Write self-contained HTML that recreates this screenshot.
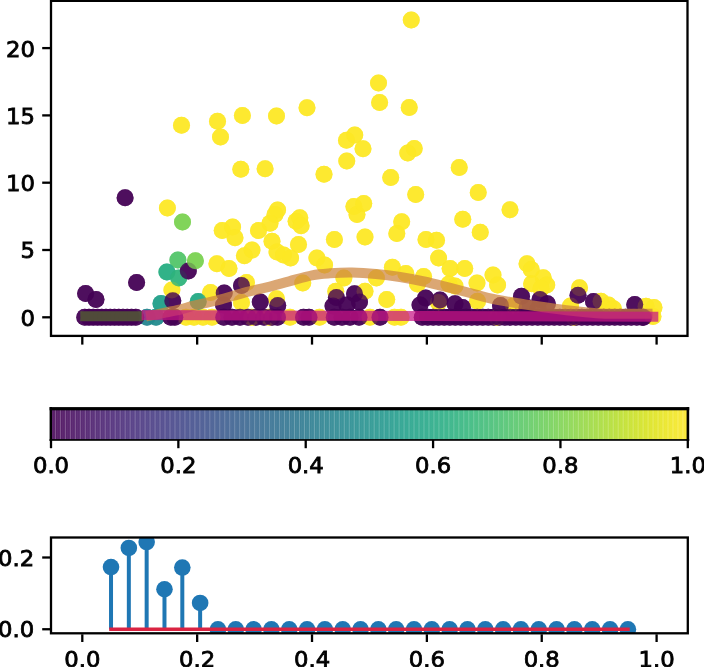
<!DOCTYPE html>
<html><head><meta charset="utf-8"><title>plot</title><style>html,body{margin:0;padding:0;background:#fff}svg{display:block}</style></head><body>
<svg width="704" height="667" viewBox="0 0 704 667">
<defs>
<clipPath id="c1"><rect x="51" y="1" width="636.5" height="335"/></clipPath>
<clipPath id="c2"><rect x="51" y="537.5" width="636.8" height="95.8"/></clipPath>
<linearGradient id="vg" x1="0" x2="1" y1="0" y2="0"><stop offset="0.000" stop-color="#440154"/><stop offset="0.031" stop-color="#470d60"/><stop offset="0.062" stop-color="#48186a"/><stop offset="0.094" stop-color="#482374"/><stop offset="0.125" stop-color="#472d7b"/><stop offset="0.156" stop-color="#453781"/><stop offset="0.188" stop-color="#424086"/><stop offset="0.219" stop-color="#3e4989"/><stop offset="0.250" stop-color="#3b528b"/><stop offset="0.281" stop-color="#375b8d"/><stop offset="0.312" stop-color="#33638d"/><stop offset="0.344" stop-color="#2f6b8e"/><stop offset="0.375" stop-color="#2c728e"/><stop offset="0.406" stop-color="#297a8e"/><stop offset="0.438" stop-color="#26828e"/><stop offset="0.469" stop-color="#23898e"/><stop offset="0.500" stop-color="#21918c"/><stop offset="0.531" stop-color="#1f988b"/><stop offset="0.562" stop-color="#1fa088"/><stop offset="0.594" stop-color="#22a785"/><stop offset="0.625" stop-color="#28ae80"/><stop offset="0.656" stop-color="#32b67a"/><stop offset="0.688" stop-color="#3fbc73"/><stop offset="0.719" stop-color="#4ec36b"/><stop offset="0.750" stop-color="#5ec962"/><stop offset="0.781" stop-color="#70cf57"/><stop offset="0.812" stop-color="#84d44b"/><stop offset="0.844" stop-color="#98d83e"/><stop offset="0.875" stop-color="#addc30"/><stop offset="0.906" stop-color="#c2df23"/><stop offset="0.938" stop-color="#d8e219"/><stop offset="0.969" stop-color="#ece51b"/><stop offset="1.000" stop-color="#fde725"/></linearGradient>
<pattern id="st" width="4.98" height="10" patternUnits="userSpaceOnUse" x="51"><rect x="3.9" y="0" width="1" height="10" fill="#fff" fill-opacity="0.26"/><rect x="1.4" y="0" width="0.8" height="10" fill="#fff" fill-opacity="0.07"/></pattern>
<g id="dots" fill-opacity="0.77"><circle cx="181.50" cy="125.25" r="8.50" fill="#fde725"/><circle cx="217.50" cy="121.30" r="8.50" fill="#fde725"/><circle cx="220.50" cy="137.00" r="8.50" fill="#fde725"/><circle cx="242.40" cy="115.40" r="8.50" fill="#fde725"/><circle cx="276.50" cy="116.00" r="8.50" fill="#fde725"/><circle cx="307.00" cy="107.75" r="8.50" fill="#fde725"/><circle cx="378.50" cy="82.90" r="8.50" fill="#fde725"/><circle cx="379.60" cy="102.40" r="8.50" fill="#fde725"/><circle cx="411.25" cy="20.00" r="8.50" fill="#fde725"/><circle cx="409.25" cy="107.50" r="8.50" fill="#fde725"/><circle cx="414.25" cy="148.50" r="8.50" fill="#fde725"/><circle cx="407.75" cy="153.00" r="8.50" fill="#fde725"/><circle cx="459.25" cy="167.50" r="8.50" fill="#fde725"/><circle cx="240.80" cy="169.30" r="8.50" fill="#fde725"/><circle cx="265.10" cy="168.70" r="8.50" fill="#fde725"/><circle cx="324.00" cy="174.25" r="8.50" fill="#fde725"/><circle cx="346.50" cy="140.25" r="8.50" fill="#fde725"/><circle cx="354.75" cy="135.00" r="8.50" fill="#fde725"/><circle cx="363.00" cy="148.75" r="8.50" fill="#fde725"/><circle cx="346.75" cy="161.00" r="8.50" fill="#fde725"/><circle cx="390.70" cy="177.60" r="8.50" fill="#fde725"/><circle cx="415.70" cy="194.50" r="8.50" fill="#fde725"/><circle cx="478.25" cy="192.50" r="8.50" fill="#fde725"/><circle cx="510.00" cy="209.75" r="8.50" fill="#fde725"/><circle cx="462.75" cy="219.25" r="8.50" fill="#fde725"/><circle cx="480.25" cy="232.25" r="8.50" fill="#fde725"/><circle cx="401.70" cy="221.80" r="8.50" fill="#fde725"/><circle cx="396.80" cy="233.40" r="8.50" fill="#fde725"/><circle cx="426.00" cy="239.50" r="8.50" fill="#fde725"/><circle cx="436.50" cy="240.25" r="8.50" fill="#fde725"/><circle cx="438.60" cy="258.00" r="8.50" fill="#fde725"/><circle cx="450.10" cy="268.40" r="8.50" fill="#fde725"/><circle cx="464.75" cy="268.60" r="8.50" fill="#fde725"/><circle cx="392.40" cy="267.20" r="8.50" fill="#fde725"/><circle cx="405.80" cy="273.40" r="8.50" fill="#fde725"/><circle cx="423.60" cy="276.60" r="8.50" fill="#fde725"/><circle cx="417.50" cy="284.00" r="8.50" fill="#fde725"/><circle cx="448.90" cy="284.00" r="8.50" fill="#fde725"/><circle cx="455.00" cy="286.00" r="8.50" fill="#fde725"/><circle cx="477.00" cy="283.00" r="8.50" fill="#fde725"/><circle cx="493.00" cy="275.00" r="8.50" fill="#fde725"/><circle cx="497.60" cy="285.00" r="8.50" fill="#fde725"/><circle cx="527.00" cy="263.75" r="8.50" fill="#fde725"/><circle cx="531.25" cy="269.40" r="8.50" fill="#fde725"/><circle cx="543.25" cy="277.75" r="8.50" fill="#fde725"/><circle cx="531.60" cy="283.70" r="8.50" fill="#fde725"/><circle cx="546.75" cy="285.00" r="8.50" fill="#fde725"/><circle cx="579.50" cy="287.75" r="8.50" fill="#fde725"/><circle cx="167.40" cy="207.90" r="8.50" fill="#fde725"/><circle cx="222.20" cy="230.40" r="8.50" fill="#fde725"/><circle cx="232.60" cy="226.90" r="8.50" fill="#fde725"/><circle cx="235.00" cy="237.75" r="8.50" fill="#fde725"/><circle cx="277.60" cy="210.00" r="8.50" fill="#fde725"/><circle cx="275.00" cy="214.40" r="8.50" fill="#fde725"/><circle cx="270.00" cy="223.30" r="8.50" fill="#fde725"/><circle cx="258.50" cy="230.60" r="8.50" fill="#fde725"/><circle cx="272.00" cy="241.25" r="8.50" fill="#fde725"/><circle cx="252.00" cy="250.00" r="8.50" fill="#fde725"/><circle cx="244.40" cy="255.80" r="8.50" fill="#fde725"/><circle cx="277.00" cy="252.00" r="8.50" fill="#fde725"/><circle cx="283.50" cy="255.00" r="8.50" fill="#fde725"/><circle cx="290.60" cy="258.00" r="8.50" fill="#fde725"/><circle cx="296.10" cy="221.30" r="8.50" fill="#fde725"/><circle cx="299.80" cy="217.70" r="8.50" fill="#fde725"/><circle cx="301.10" cy="225.70" r="8.50" fill="#fde725"/><circle cx="298.50" cy="244.60" r="8.50" fill="#fde725"/><circle cx="334.40" cy="239.50" r="8.50" fill="#fde725"/><circle cx="316.90" cy="258.00" r="8.50" fill="#fde725"/><circle cx="324.60" cy="265.00" r="8.50" fill="#fde725"/><circle cx="353.90" cy="206.50" r="8.50" fill="#fde725"/><circle cx="357.00" cy="214.60" r="8.50" fill="#fde725"/><circle cx="363.75" cy="203.50" r="8.50" fill="#fde725"/><circle cx="365.00" cy="236.90" r="8.50" fill="#fde725"/><circle cx="216.90" cy="263.75" r="8.50" fill="#fde725"/><circle cx="229.00" cy="268.50" r="8.50" fill="#fde725"/><circle cx="171.90" cy="290.00" r="8.50" fill="#fde725"/><circle cx="210.60" cy="292.50" r="8.50" fill="#fde725"/><circle cx="246.50" cy="282.50" r="8.50" fill="#fde725"/><circle cx="241.50" cy="302.50" r="8.50" fill="#fde725"/><circle cx="276.50" cy="298.75" r="8.50" fill="#fde725"/><circle cx="302.75" cy="283.00" r="8.50" fill="#fde725"/><circle cx="343.90" cy="278.00" r="8.50" fill="#fde725"/><circle cx="376.40" cy="278.00" r="8.50" fill="#fde725"/><circle cx="335.75" cy="291.25" r="8.50" fill="#fde725"/><circle cx="365.00" cy="291.25" r="8.50" fill="#fde725"/><circle cx="386.75" cy="299.40" r="8.50" fill="#fde725"/><circle cx="438.50" cy="302.50" r="8.50" fill="#fde725"/><circle cx="477.50" cy="301.25" r="8.50" fill="#fde725"/><circle cx="541.00" cy="288.50" r="8.50" fill="#fde725"/><circle cx="513.60" cy="306.00" r="8.50" fill="#fde725"/><circle cx="570.50" cy="306.00" r="8.50" fill="#fde725"/><circle cx="601.00" cy="301.25" r="8.50" fill="#fde725"/><circle cx="608.50" cy="305.00" r="8.50" fill="#fde725"/><circle cx="613.50" cy="308.75" r="8.50" fill="#fde725"/><circle cx="646.00" cy="306.25" r="8.50" fill="#fde725"/><circle cx="654.00" cy="307.60" r="8.50" fill="#fde725"/><circle cx="186.00" cy="317.30" r="8.50" fill="#fde725"/><circle cx="194.00" cy="317.30" r="8.50" fill="#fde725"/><circle cx="203.00" cy="317.30" r="8.50" fill="#fde725"/><circle cx="212.00" cy="317.30" r="8.50" fill="#fde725"/><circle cx="251.50" cy="317.30" r="8.50" fill="#fde725"/><circle cx="269.00" cy="317.30" r="8.50" fill="#fde725"/><circle cx="290.00" cy="317.30" r="8.50" fill="#fde725"/><circle cx="319.50" cy="317.30" r="8.50" fill="#fde725"/><circle cx="370.00" cy="317.30" r="8.50" fill="#fde725"/><circle cx="394.50" cy="317.30" r="8.50" fill="#fde725"/><circle cx="401.00" cy="317.30" r="8.50" fill="#fde725"/><circle cx="497.00" cy="317.30" r="8.50" fill="#fde725"/><circle cx="574.00" cy="317.30" r="8.50" fill="#fde725"/><circle cx="653.00" cy="316.60" r="8.50" fill="#fde725"/><circle cx="182.50" cy="222.00" r="8.50" fill="#7ad151"/><circle cx="177.90" cy="260.10" r="8.50" fill="#52c569"/><circle cx="166.90" cy="272.00" r="8.50" fill="#26ad81"/><circle cx="178.75" cy="278.00" r="8.50" fill="#2fb47c"/><circle cx="161.00" cy="303.60" r="8.50" fill="#1f9f88"/><circle cx="198.20" cy="301.50" r="8.50" fill="#22a884"/><circle cx="147.00" cy="317.30" r="8.50" fill="#25848e"/><circle cx="156.00" cy="317.30" r="8.50" fill="#228b8d"/><circle cx="125.10" cy="197.75" r="8.50" fill="#440154"/><circle cx="85.60" cy="293.50" r="8.50" fill="#440154"/><circle cx="96.00" cy="299.40" r="8.50" fill="#440154"/><circle cx="136.60" cy="282.50" r="8.50" fill="#440154"/><circle cx="188.30" cy="271.00" r="8.50" fill="#440154"/><circle cx="172.80" cy="300.80" r="8.50" fill="#440154"/><circle cx="224.20" cy="293.00" r="8.50" fill="#440154"/><circle cx="223.50" cy="305.00" r="8.50" fill="#440154"/><circle cx="241.50" cy="285.60" r="8.50" fill="#440154"/><circle cx="260.25" cy="301.90" r="8.50" fill="#440154"/><circle cx="277.75" cy="305.60" r="8.50" fill="#440154"/><circle cx="336.40" cy="297.50" r="8.50" fill="#440154"/><circle cx="354.50" cy="293.75" r="8.50" fill="#440154"/><circle cx="359.50" cy="302.00" r="8.50" fill="#440154"/><circle cx="333.00" cy="306.00" r="8.50" fill="#440154"/><circle cx="347.00" cy="305.00" r="8.50" fill="#440154"/><circle cx="425.60" cy="298.00" r="8.50" fill="#440154"/><circle cx="420.00" cy="305.00" r="8.50" fill="#440154"/><circle cx="440.00" cy="300.00" r="8.50" fill="#440154"/><circle cx="455.00" cy="303.75" r="8.50" fill="#440154"/><circle cx="462.50" cy="307.50" r="8.50" fill="#440154"/><circle cx="521.50" cy="296.25" r="8.50" fill="#440154"/><circle cx="540.00" cy="299.40" r="8.50" fill="#440154"/><circle cx="547.40" cy="303.75" r="8.50" fill="#440154"/><circle cx="500.50" cy="305.60" r="8.50" fill="#440154"/><circle cx="527.00" cy="307.50" r="8.50" fill="#440154"/><circle cx="538.00" cy="309.00" r="8.50" fill="#440154"/><circle cx="578.00" cy="295.30" r="8.50" fill="#440154"/><circle cx="593.50" cy="301.50" r="8.50" fill="#440154"/><circle cx="634.75" cy="304.40" r="8.50" fill="#440154"/><circle cx="84.75" cy="317.30" r="8.50" fill="#440154"/><circle cx="89.00" cy="317.30" r="8.50" fill="#440154"/><circle cx="93.25" cy="317.30" r="8.50" fill="#440154"/><circle cx="97.50" cy="317.30" r="8.50" fill="#440154"/><circle cx="101.75" cy="317.30" r="8.50" fill="#440154"/><circle cx="106.00" cy="317.30" r="8.50" fill="#440154"/><circle cx="110.25" cy="317.30" r="8.50" fill="#440154"/><circle cx="114.50" cy="317.30" r="8.50" fill="#440154"/><circle cx="118.75" cy="317.30" r="8.50" fill="#440154"/><circle cx="123.00" cy="317.30" r="8.50" fill="#440154"/><circle cx="127.25" cy="317.30" r="8.50" fill="#440154"/><circle cx="131.50" cy="317.30" r="8.50" fill="#440154"/><circle cx="135.75" cy="317.30" r="8.50" fill="#440154"/><circle cx="170.80" cy="317.30" r="8.50" fill="#440154"/><circle cx="174.80" cy="317.30" r="8.50" fill="#440154"/><circle cx="223.75" cy="317.30" r="8.50" fill="#440154"/><circle cx="232.00" cy="317.30" r="8.50" fill="#440154"/><circle cx="240.00" cy="317.30" r="8.50" fill="#440154"/><circle cx="248.00" cy="317.30" r="8.50" fill="#440154"/><circle cx="256.00" cy="317.30" r="8.50" fill="#440154"/><circle cx="264.00" cy="317.30" r="8.50" fill="#440154"/><circle cx="272.00" cy="317.30" r="8.50" fill="#440154"/><circle cx="277.50" cy="317.30" r="8.50" fill="#440154"/><circle cx="303.50" cy="317.30" r="8.50" fill="#440154"/><circle cx="309.00" cy="317.30" r="8.50" fill="#440154"/><circle cx="334.25" cy="317.30" r="8.50" fill="#440154"/><circle cx="342.00" cy="317.30" r="8.50" fill="#440154"/><circle cx="350.00" cy="317.30" r="8.50" fill="#440154"/><circle cx="359.00" cy="317.30" r="8.50" fill="#440154"/><circle cx="380.00" cy="317.30" r="8.50" fill="#440154"/><circle cx="422.25" cy="317.30" r="8.50" fill="#440154"/><circle cx="427.75" cy="317.30" r="8.50" fill="#440154"/><circle cx="433.25" cy="317.30" r="8.50" fill="#440154"/><circle cx="438.75" cy="317.30" r="8.50" fill="#440154"/><circle cx="444.25" cy="317.30" r="8.50" fill="#440154"/><circle cx="449.75" cy="317.30" r="8.50" fill="#440154"/><circle cx="455.25" cy="317.30" r="8.50" fill="#440154"/><circle cx="460.75" cy="317.30" r="8.50" fill="#440154"/><circle cx="466.25" cy="317.30" r="8.50" fill="#440154"/><circle cx="471.75" cy="317.30" r="8.50" fill="#440154"/><circle cx="477.25" cy="317.30" r="8.50" fill="#440154"/><circle cx="482.75" cy="317.30" r="8.50" fill="#440154"/><circle cx="488.25" cy="317.30" r="8.50" fill="#440154"/><circle cx="493.75" cy="317.30" r="8.50" fill="#440154"/><circle cx="499.25" cy="317.30" r="8.50" fill="#440154"/><circle cx="504.75" cy="317.30" r="8.50" fill="#440154"/><circle cx="510.25" cy="317.30" r="8.50" fill="#440154"/><circle cx="515.75" cy="317.30" r="8.50" fill="#440154"/><circle cx="521.25" cy="317.30" r="8.50" fill="#440154"/><circle cx="526.75" cy="317.30" r="8.50" fill="#440154"/><circle cx="532.25" cy="317.30" r="8.50" fill="#440154"/><circle cx="537.75" cy="317.30" r="8.50" fill="#440154"/><circle cx="543.25" cy="317.30" r="8.50" fill="#440154"/><circle cx="548.75" cy="317.30" r="8.50" fill="#440154"/><circle cx="554.25" cy="317.30" r="8.50" fill="#440154"/><circle cx="559.75" cy="317.30" r="8.50" fill="#440154"/><circle cx="565.25" cy="317.30" r="8.50" fill="#440154"/><circle cx="570.75" cy="317.30" r="8.50" fill="#440154"/><circle cx="576.25" cy="317.30" r="8.50" fill="#440154"/><circle cx="581.75" cy="317.30" r="8.50" fill="#440154"/><circle cx="587.25" cy="317.30" r="8.50" fill="#440154"/><circle cx="592.75" cy="317.30" r="8.50" fill="#440154"/><circle cx="598.25" cy="317.30" r="8.50" fill="#440154"/><circle cx="603.75" cy="317.30" r="8.50" fill="#440154"/><circle cx="609.25" cy="317.30" r="8.50" fill="#440154"/><circle cx="614.75" cy="317.30" r="8.50" fill="#440154"/><circle cx="620.25" cy="317.30" r="8.50" fill="#440154"/><circle cx="625.75" cy="317.30" r="8.50" fill="#440154"/><circle cx="631.25" cy="317.30" r="8.50" fill="#440154"/><circle cx="636.75" cy="317.30" r="8.50" fill="#440154"/><circle cx="642.25" cy="317.30" r="8.50" fill="#440154"/><circle cx="643.50" cy="317.30" r="8.50" fill="#440154"/><circle cx="195.40" cy="260.80" r="8.50" fill="#7ad151"/></g>
</defs>
<rect width="704" height="667" fill="#fff"/>
<g clip-path="url(#c1)">
<use href="#dots"/><use href="#dots"/>
<path d="M146.00 316.30 C147.67 316.02 152.83 315.22 156.00 314.60 C159.17 313.98 160.83 313.48 165.00 312.60 C169.17 311.72 176.83 310.30 181.00 309.30 C185.17 308.30 186.83 307.45 190.00 306.60 C193.17 305.75 195.83 305.15 200.00 304.20 C204.17 303.25 211.00 301.85 215.00 300.90 C219.00 299.95 220.92 299.35 224.00 298.50 C227.08 297.65 229.27 296.98 233.50 295.80 C237.73 294.62 243.69 292.83 249.40 291.40 C255.11 289.97 261.12 288.88 267.75 287.20 C274.38 285.52 281.82 283.28 289.20 281.30 C296.57 279.32 305.20 276.63 312.00 275.30 C318.80 273.97 323.33 273.75 330.00 273.30 C336.67 272.85 344.33 272.48 352.00 272.60 C359.67 272.72 368.00 273.27 376.00 274.00 C384.00 274.73 392.00 275.75 400.00 277.00 C408.00 278.25 416.00 279.78 424.00 281.50 C432.00 283.22 440.33 285.38 448.00 287.30 C455.67 289.22 463.33 291.25 470.00 293.00 C476.67 294.75 481.33 296.30 488.00 297.80 C494.67 299.30 502.67 300.72 510.00 302.00 C517.33 303.28 524.50 304.38 532.00 305.50 C539.50 306.62 547.67 307.75 555.00 308.70 C562.33 309.65 568.50 310.42 576.00 311.20 C583.50 311.98 592.67 312.98 600.00 313.40 C607.33 313.82 611.25 313.63 620.00 313.70 C628.75 313.77 647.08 313.78 652.50 313.80" fill="none" stroke="#cd853f" stroke-opacity="0.72" stroke-width="10.0" stroke-linejoin="round"/>
<path d="M80.3 316.2 L143 316.2" fill="none" stroke="#556b2f" stroke-opacity="0.7" stroke-width="10.0"/>
<path d="M141.6 315.1 L658.3 316.7" fill="none" stroke="#c71585" stroke-opacity="0.72" stroke-width="10.0"/>
</g>
<g stroke="#000" stroke-width="2.3" fill="none">
<rect x="51" y="0.85" width="636.5" height="335.05"/>
<path d="M82.30 336.9V344.6"/>
<path d="M197.16 336.9V344.6"/>
<path d="M312.02 336.9V344.6"/>
<path d="M426.88 336.9V344.6"/>
<path d="M541.74 336.9V344.6"/>
<path d="M656.60 336.9V344.6"/>
<path d="M42.2 317.30H50"/>
<path d="M42.2 250.00H50"/>
<path d="M42.2 182.70H50"/>
<path d="M42.2 115.40H50"/>
<path d="M42.2 48.10H50"/>
</g>
<text transform="translate(34.90 325.70) scale(1.025 0.985)" text-anchor="end" font-family="DejaVu Sans, Liberation Sans, sans-serif" font-size="22.2" fill="#000" stroke="#000" stroke-width="0.8">0</text>
<text transform="translate(34.90 258.40) scale(1.025 0.985)" text-anchor="end" font-family="DejaVu Sans, Liberation Sans, sans-serif" font-size="22.2" fill="#000" stroke="#000" stroke-width="0.8">5</text>
<text transform="translate(34.90 191.10) scale(1.025 0.985)" text-anchor="end" font-family="DejaVu Sans, Liberation Sans, sans-serif" font-size="22.2" fill="#000" stroke="#000" stroke-width="0.8">10</text>
<text transform="translate(34.90 123.80) scale(1.025 0.985)" text-anchor="end" font-family="DejaVu Sans, Liberation Sans, sans-serif" font-size="22.2" fill="#000" stroke="#000" stroke-width="0.8">15</text>
<text transform="translate(34.90 56.50) scale(1.025 0.985)" text-anchor="end" font-family="DejaVu Sans, Liberation Sans, sans-serif" font-size="22.2" fill="#000" stroke="#000" stroke-width="0.8">20</text>
<rect x="51" y="408.7" width="636.8" height="31.2" fill="url(#vg)" fill-opacity="0.9"/>
<rect x="51" y="408.7" width="636.8" height="31.2" fill="url(#st)"/>
<g fill="#000">
<rect x="49.6" y="407.1" width="639.6" height="3.2"/>
<rect x="49.6" y="439.1" width="639.6" height="1.7"/>
<rect x="49.6" y="407.1" width="2.4" height="33.7"/>
<rect x="686.6" y="407.1" width="2.6" height="33.7"/>
</g>
<g stroke="#000" stroke-width="2.3" fill="none">
<path d="M51.00 440V448.2"/>
<path d="M178.36 440V448.2"/>
<path d="M305.72 440V448.2"/>
<path d="M433.08 440V448.2"/>
<path d="M560.44 440V448.2"/>
<path d="M687.80 440V448.2"/>
</g>
<text transform="translate(51.00 473.10) scale(1.025 0.985)" text-anchor="middle" font-family="DejaVu Sans, Liberation Sans, sans-serif" font-size="22.2" fill="#000" stroke="#000" stroke-width="0.8">0.0</text>
<text transform="translate(178.36 473.10) scale(1.025 0.985)" text-anchor="middle" font-family="DejaVu Sans, Liberation Sans, sans-serif" font-size="22.2" fill="#000" stroke="#000" stroke-width="0.8">0.2</text>
<text transform="translate(305.72 473.10) scale(1.025 0.985)" text-anchor="middle" font-family="DejaVu Sans, Liberation Sans, sans-serif" font-size="22.2" fill="#000" stroke="#000" stroke-width="0.8">0.4</text>
<text transform="translate(433.08 473.10) scale(1.025 0.985)" text-anchor="middle" font-family="DejaVu Sans, Liberation Sans, sans-serif" font-size="22.2" fill="#000" stroke="#000" stroke-width="0.8">0.6</text>
<text transform="translate(560.44 473.10) scale(1.025 0.985)" text-anchor="middle" font-family="DejaVu Sans, Liberation Sans, sans-serif" font-size="22.2" fill="#000" stroke="#000" stroke-width="0.8">0.8</text>
<text transform="translate(687.80 473.10) scale(1.025 0.985)" text-anchor="middle" font-family="DejaVu Sans, Liberation Sans, sans-serif" font-size="22.2" fill="#000" stroke="#000" stroke-width="0.8">1.0</text>
<g clip-path="url(#c2)">
<path d="M111.02 629.25V567.01" stroke="#1f77b4" stroke-width="4" fill="none"/>
<path d="M128.84 629.25V547.99" stroke="#1f77b4" stroke-width="4" fill="none"/>
<path d="M146.66 629.25V542.07" stroke="#1f77b4" stroke-width="4" fill="none"/>
<path d="M164.48 629.25V589.25" stroke="#1f77b4" stroke-width="4" fill="none"/>
<path d="M182.31 629.25V567.54" stroke="#1f77b4" stroke-width="4" fill="none"/>
<path d="M200.13 629.25V602.99" stroke="#1f77b4" stroke-width="4" fill="none"/>
<circle cx="111.02" cy="567.01" r="8.3" fill="#1f77b4"/>
<circle cx="128.84" cy="547.99" r="8.3" fill="#1f77b4"/>
<circle cx="146.66" cy="542.07" r="8.3" fill="#1f77b4"/>
<circle cx="164.48" cy="589.25" r="8.3" fill="#1f77b4"/>
<circle cx="182.31" cy="567.54" r="8.3" fill="#1f77b4"/>
<circle cx="200.13" cy="602.99" r="8.3" fill="#1f77b4"/>
<circle cx="217.95" cy="629.25" r="8.3" fill="#1f77b4"/>
<circle cx="235.78" cy="629.25" r="8.3" fill="#1f77b4"/>
<circle cx="253.60" cy="629.25" r="8.3" fill="#1f77b4"/>
<circle cx="271.42" cy="629.25" r="8.3" fill="#1f77b4"/>
<circle cx="289.25" cy="629.25" r="8.3" fill="#1f77b4"/>
<circle cx="307.07" cy="629.25" r="8.3" fill="#1f77b4"/>
<circle cx="324.89" cy="629.25" r="8.3" fill="#1f77b4"/>
<circle cx="342.72" cy="629.25" r="8.3" fill="#1f77b4"/>
<circle cx="360.54" cy="629.25" r="8.3" fill="#1f77b4"/>
<circle cx="378.36" cy="629.25" r="8.3" fill="#1f77b4"/>
<circle cx="396.18" cy="629.25" r="8.3" fill="#1f77b4"/>
<circle cx="414.01" cy="629.25" r="8.3" fill="#1f77b4"/>
<circle cx="431.83" cy="629.25" r="8.3" fill="#1f77b4"/>
<circle cx="449.65" cy="629.25" r="8.3" fill="#1f77b4"/>
<circle cx="467.48" cy="629.25" r="8.3" fill="#1f77b4"/>
<circle cx="485.30" cy="629.25" r="8.3" fill="#1f77b4"/>
<circle cx="503.12" cy="629.25" r="8.3" fill="#1f77b4"/>
<circle cx="520.95" cy="629.25" r="8.3" fill="#1f77b4"/>
<circle cx="538.77" cy="629.25" r="8.3" fill="#1f77b4"/>
<circle cx="556.59" cy="629.25" r="8.3" fill="#1f77b4"/>
<circle cx="574.42" cy="629.25" r="8.3" fill="#1f77b4"/>
<circle cx="592.24" cy="629.25" r="8.3" fill="#1f77b4"/>
<circle cx="610.06" cy="629.25" r="8.3" fill="#1f77b4"/>
<circle cx="627.88" cy="629.25" r="8.3" fill="#1f77b4"/>
<path d="M111.02 629.25H627.88" stroke="#da2342" stroke-width="3.7" stroke-linecap="square" fill="none"/>
</g>
<g stroke="#000" stroke-width="2.3" fill="none">
<rect x="51" y="537.5" width="636.8" height="95.8"/>
<path d="M82.30 634.3V642"/>
<path d="M197.16 634.3V642"/>
<path d="M312.02 634.3V642"/>
<path d="M426.88 634.3V642"/>
<path d="M541.74 634.3V642"/>
<path d="M656.60 634.3V642"/>
<path d="M42.2 629.25H50"/>
<path d="M42.2 557.50H50"/>
</g>
<text transform="translate(34.20 637.25) scale(1.025 0.985)" text-anchor="end" font-family="DejaVu Sans, Liberation Sans, sans-serif" font-size="22.2" fill="#000" stroke="#000" stroke-width="0.8">0.0</text>
<text transform="translate(34.20 565.50) scale(1.025 0.985)" text-anchor="end" font-family="DejaVu Sans, Liberation Sans, sans-serif" font-size="22.2" fill="#000" stroke="#000" stroke-width="0.8">0.2</text>
<text transform="translate(82.30 667.00) scale(1.025 0.985)" text-anchor="middle" font-family="DejaVu Sans, Liberation Sans, sans-serif" font-size="22.2" fill="#000" stroke="#000" stroke-width="0.8">0.0</text>
<text transform="translate(197.16 667.00) scale(1.025 0.985)" text-anchor="middle" font-family="DejaVu Sans, Liberation Sans, sans-serif" font-size="22.2" fill="#000" stroke="#000" stroke-width="0.8">0.2</text>
<text transform="translate(312.02 667.00) scale(1.025 0.985)" text-anchor="middle" font-family="DejaVu Sans, Liberation Sans, sans-serif" font-size="22.2" fill="#000" stroke="#000" stroke-width="0.8">0.4</text>
<text transform="translate(426.88 667.00) scale(1.025 0.985)" text-anchor="middle" font-family="DejaVu Sans, Liberation Sans, sans-serif" font-size="22.2" fill="#000" stroke="#000" stroke-width="0.8">0.6</text>
<text transform="translate(541.74 667.00) scale(1.025 0.985)" text-anchor="middle" font-family="DejaVu Sans, Liberation Sans, sans-serif" font-size="22.2" fill="#000" stroke="#000" stroke-width="0.8">0.8</text>
<text transform="translate(656.60 667.00) scale(1.025 0.985)" text-anchor="middle" font-family="DejaVu Sans, Liberation Sans, sans-serif" font-size="22.2" fill="#000" stroke="#000" stroke-width="0.8">1.0</text>
</svg>
</body></html>
